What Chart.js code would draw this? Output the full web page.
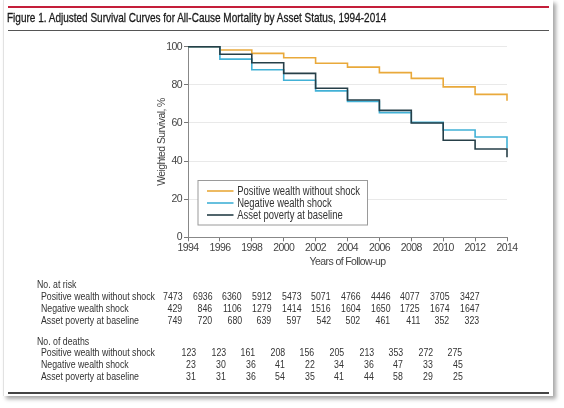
<!DOCTYPE html>
<html><head><meta charset="utf-8">
<script src="https://cdn.jsdelivr.net/npm/chart.js@4.4.1/dist/chart.umd.min.js"></script>
<style>
html,body{margin:0;padding:0;background:#fff;width:564px;height:408px;overflow:hidden;}
#card{position:absolute;left:3px;top:0;width:549px;height:396px;background:#fff;box-shadow:3px 3px 4px rgba(0,0,0,0.35);border-left:1px solid #e2e2e2;}
.rule{position:absolute;left:8px;width:541px;}
#chart{position:absolute;left:0;top:0;}
.t{position:absolute;white-space:nowrap;color:#333;line-height:12px;}
</style></head><body>
<div id="card"></div>
<div class="rule" style="top:6px;height:2px;background:#c41e3a"></div>
<div class="rule" style="top:30px;height:1px;background:#555"></div>
<div class="rule" style="top:392px;height:2px;background:#444"></div>
<canvas id="chart" width="564" height="408"></canvas>
<div id="txt"></div>
<script>
// ---- data ----
const years = [1994,1996,1998,2000,2002,2004,2006,2008,2010,2012,2014];
const positiveWealth = [100,98.3,96.5,94.2,91.3,89.3,86.4,83.4,78.9,75.0,71.7];
const negativeShock  = [100,93.5,87.9,82.4,76.8,71.3,65.4,60.3,56.3,52.6,46.7];
const assetPoverty   = [100,96.0,91.6,86.0,78.2,72.0,66.6,60.0,50.9,46.3,42.0];
const seriesNames = ['Positive wealth without shock','Negative wealth shock','Asset poverty at baseline'];
const yTicks = [0,20,40,60,80,100];
const riskPositive = [7473,6936,6360,5912,5473,5071,4766,4446,4077,3705,3427];
const riskNegative = [429,846,1106,1279,1414,1516,1604,1650,1725,1674,1647];
const riskPoverty  = [749,720,680,639,597,542,502,461,411,352,323];
const deathsPositive = [123,123,161,208,156,205,213,353,272,275];
const deathsNegative = [23,30,36,41,22,34,36,47,33,45];
const deathsPoverty  = [31,31,36,54,35,41,44,58,29,25];
const titleText = 'Figure 1. Adjusted Survival Curves for All-Cause Mortality by Asset Status, 1994-2014';

// ---- fonts ----
const mctx = document.createElement('canvas').getContext('2d');
function hasFont(name){
  const t='abcdefghijklmnopqrstuvwxyz0123456789';
  mctx.font='20px monospace'; const a=mctx.measureText(t).width;
  mctx.font="20px '"+name+"', monospace"; const b=mctx.measureText(t).width;
  return Math.abs(a-b)>0.5;
}
const NARROW = hasFont('Liberation Sans Narrow');
const FAM = NARROW ? "'Liberation Sans Narrow', 'Liberation Sans', sans-serif" : "'Liberation Sans', Arial, sans-serif";
function measure(str, size, weight){ mctx.font=(weight||'normal')+' '+size+'px '+FAM; return mctx.measureText(str).width; }

// ---- html text ----
const tx = document.getElementById('txt');
function put(str, x, cy, align, size, sq, color, stroke){
  const s=document.createElement('span'); s.className='t'; s.textContent=str;
  s.style.fontFamily=FAM; s.style.fontSize=size+'px'; s.style.top=(cy-6)+'px';
  if(color) s.style.color=color;
  if(stroke) s.style.webkitTextStroke=stroke;
  if(align==='right'){ s.style.right=(564-x)+'px'; s.style.transformOrigin='right center'; }
  else { s.style.left=x+'px'; s.style.transformOrigin='left center'; }
  s.style.transform='scaleX('+sq+')';
  tx.appendChild(s);
}
const titleSq = 381/measure(titleText,13);
put(titleText, 7, 18, 'left', 13, titleSq, '#1a1a1a', '0.3px #1a1a1a');

const tSize = 11.5;
const tSq = 114/measure(seriesNames[0], tSize);
put('No. at risk', 36.7, 284.3, 'left', tSize, tSq);
put('No. of deaths', 36.7, 340.7, 'left', tSize, tSq);
const riskRows = [riskPositive, riskNegative, riskPoverty];
const deathRows = [deathsPositive, deathsNegative, deathsPoverty];
const riskY = [295.7, 307.8, 320];
const deathY = [351.7, 364, 376.2];
riskRows.forEach((row,r)=>{
  put(seriesNames[r], 41, riskY[r], 'left', tSize, tSq);
  row.forEach((v,i)=>put(String(v), 182.5+29.68*i, riskY[r], 'right', tSize, tSq));
});
deathRows.forEach((row,r)=>{
  put(seriesNames[r], 41, deathY[r], 'left', tSize, tSq);
  row.forEach((v,i)=>put(String(v), 196.2+29.58*i, deathY[r], 'right', tSize, tSq));
});

// ---- chart ----
const colors = ['#E9A93B','#42B1D6','#263F48'];
const seriesData = [positiveWealth, negativeShock, assetPoverty];

const spacingPlugin = {
  id:'narrowText',
  beforeDraw(chart){ chart.ctx.letterSpacing = NARROW ? '0px' : '-0.6px'; }
};

const legendPlugin = {
  id:'insideLegend',
  afterDraw(chart){
    const ctx = chart.ctx;
    ctx.save();
    ctx.letterSpacing='0px';
    ctx.fillStyle='#fff';
    ctx.fillRect(198,180.5,169.5,44.5);
    ctx.strokeStyle='#9a9a9a'; ctx.lineWidth=1;
    ctx.strokeRect(198,180.5,169.5,44.5);
    const size=12;
    ctx.font=size+'px '+FAM;
    const sq = 122.7/ctx.measureText(seriesNames[0]).width;
    const rows=[191,203,215];
    chart.data.datasets.forEach((ds,i)=>{
      ctx.strokeStyle=ds.borderColor; ctx.lineWidth=1.6;
      ctx.beginPath(); ctx.moveTo(207,rows[i]); ctx.lineTo(233.5,rows[i]); ctx.stroke();
      ctx.save();
      ctx.translate(237.3,rows[i]); ctx.scale(sq,1);
      ctx.fillStyle='#333'; ctx.textBaseline='middle'; ctx.textAlign='left';
      ctx.fillText(ds.label,0,0.5);
      ctx.restore();
    });
    ctx.restore();
  }
};

new Chart(document.getElementById('chart'), {
  type:'line',
  data:{
    datasets: seriesData.map((arr,i)=>({
      label: seriesNames[i],
      data: years.map((x,j)=>({x:x,y:arr[j]})),
      borderColor: colors[i],
      backgroundColor: colors[i],
      borderWidth:1.6,
      pointRadius:0,
      stepped:'before',
      fill:false,
      order: 3-i,
      clip: 4
    }))
  },
  options:{
    responsive:false,
    animation:false,
    events:[],
    layout:{padding:{top:46.7,right:57,bottom:138.7,left:0}},
    plugins:{legend:{display:false},tooltip:{enabled:false},title:{display:false}},
    scales:{
      x:{
        type:'linear', min:years[0], max:years[years.length-1],
        afterFit(s){ s.height=32; },
        afterBuildTicks(s){ s.ticks = years.map(v=>({value:v})); },
        ticks:{ stepSize:2, autoSkip:false, maxRotation:0, padding:1, color:'#444',
          font:{family:FAM,size:10.5,lineHeight:1.15}, callback:v=>String(v) },
        grid:{ drawOnChartArea:false, drawTicks:true, tickLength:4, tickColor:'#777' },
        border:{ color:'#888', width:1 },
        title:{ display:true, text:'Years of Follow-up', color:'#444',
          font:{family:FAM,size:10.5,lineHeight:1.15}, padding:{top:0,bottom:1.5} }
      },
      y:{
        min:0, max:100,
        afterFit(s){ s.width=188; },
        afterBuildTicks(s){ s.ticks = yTicks.map(v=>({value:v})); },
        ticks:{ stepSize:20, padding:2, color:'#444', font:{family:FAM,size:10.5,lineHeight:1.15} },
        grid:{ color:'#e9e9e9', lineWidth:1, drawTicks:true, tickLength:4, tickColor:'#777' },
        border:{ color:'#888', width:1 },
        title:{ display:true, text:'Weighted Survival, %', color:'#444',
          font:{family:FAM,size:10.5,lineHeight:1.15}, padding:{top:155.6,bottom:0} }
      }
    }
  },
  plugins:[spacingPlugin, legendPlugin]
});
</script>
</body></html>
